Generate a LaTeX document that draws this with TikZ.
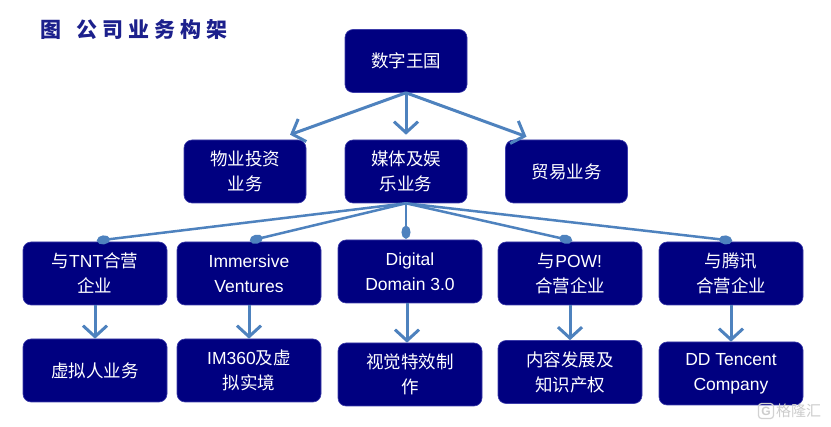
\documentclass[tikz,border=0pt]{standalone}
\usepackage{fontspec}
\usetikzlibrary{arrows.meta}
\newfontfamily\cjk{Noto Sans CJK SC}
\newfontfamily\lat{Liberation Sans}
\definecolor{navybox}{RGB}{0,0,128}
\definecolor{navyedge}{RGB}{60,60,170}
\definecolor{arrowblue}{RGB}{78,130,190}
\definecolor{titleblue}{RGB}{28,32,140}
\tikzset{
  box/.style={fill=navybox, draw=navyedge, line width=0.6pt, rounded corners=8pt,
    text=white, align=center, minimum width=122pt, minimum height=63pt, inner sep=0pt,
    font=\cjk\fontsize{17.5}{25}\selectfont},
  wbox/.style={box, minimum width=144pt},
  arr/.style={draw=arrowblue, line width=3pt, -{Straight Barb[length=11pt,width=24pt]}},
  dotline/.style={draw=arrowblue, line width=2.5pt, -{Ellipse[length=13pt,width=9pt]}}
}
\begin{document}
\begin{tikzpicture}[x=1pt,y=-1pt]
\useasboundingbox[fill=white] (0,0) rectangle (831,427);
\node[anchor=west, text=titleblue, font=\cjk\bfseries\fontsize{21}{24}\selectfont, inner sep=0pt] (title) at (40,30) {图\hspace{15pt}公\hspace{5pt}司\hspace{5pt}业\hspace{5pt}务\hspace{5pt}构\hspace{5pt}架};
% level 1 and 2
\node[box] (shuzi) at (406,61) {数字王国};
\node[box] (wuye) at (245,171.5) {物业投资\\业务};
\node[box] (meiti) at (406,171.5) {媒体及娱\\乐业务};
\node[box] (maoyi) at (566.5,171.5) {贸易业务};
% level 3
\node[wbox] (tnt) at (95,273.5) {与{\lat TNT}合营\\企业};
\node[wbox] (imm) at (249,273.5) {{\lat Immersive}\\{\lat Ventures}};
\node[wbox] (dd) at (410,271.5) {{\lat Digital}\\{\lat Domain 3.0}};
\node[wbox] (pow) at (570,273.5) {与{\lat POW!}\\合营企业};
\node[wbox] (tx) at (731,273.5) {与腾讯\\合营企业};
% level 4
\node[wbox] (xuni) at (95,370.5) {虚拟人业务};
\node[wbox] (im360) at (249,370.5) {{\lat IM360}及虚\\拟实境};
\node[wbox] (vfx) at (410,374.5) {视觉特效制\\作};
\node[wbox] (ip) at (570,372) {内容发展及\\知识产权};
\node[wbox] (ddt) at (731,373.5) {{\lat DD Tencent}\\{\lat Company}};
% arrows level 1 -> 2
\draw[arr] (shuzi.south) -- ([xshift=45pt,yshift=5pt]wuye.north);
\draw[arr] (shuzi.south) -- ([yshift=5pt]meiti.north);
\draw[arr] (shuzi.south) -- ([xshift=-40pt,yshift=3pt]maoyi.north);
% lines level 2 -> 3
\draw[dotline] (meiti.south) -- ([xshift=2pt,yshift=1pt]tnt.north);
\draw[dotline] (meiti.south) -- ([xshift=1pt,yshift=1pt]imm.north);
\draw[dotline] (meiti.south) -- ([yshift=1pt]dd.north -| meiti.south);
\draw[dotline] (meiti.south) -- ([xshift=2pt,yshift=1pt]pow.north);
\draw[dotline] (meiti.south) -- ([xshift=1pt,yshift=1pt]tx.north);
% arrows level 3 -> 4
\draw[arr] (tnt.south) -- (xuni.north);
\draw[arr] (imm.south) -- (im360.north);
\draw[arr] ([xshift=-3pt]dd.south) -- ([xshift=-3pt]vfx.north);
\draw[arr] (pow.south) -- (ip.north);
\draw[arr] (tx.south) -- (ddt.north);
% watermark
\node[draw=gray!35, line width=1.2pt, rounded corners=3pt, minimum size=15pt, inner sep=0pt,
  text=gray!40, font=\lat\bfseries\fontsize{12}{12}\selectfont] (wmg) at (766,411) {G};
\node[anchor=west, text=gray!40, font=\cjk\fontsize{15}{15}\selectfont, inner sep=0pt] (wm) at (776,411) {格隆汇};
\end{tikzpicture}
\end{document}
